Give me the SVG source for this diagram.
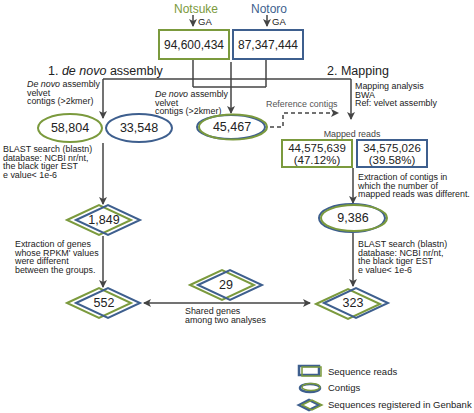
<svg xmlns="http://www.w3.org/2000/svg" width="474" height="413" viewBox="0 0 474 413">
<defs>
<marker id="ah" markerWidth="8" markerHeight="8" refX="7" refY="4" orient="auto" markerUnits="userSpaceOnUse"><path d="M0,0 L8,4 L0,8 L2,4 Z" fill="#444"/></marker>
<marker id="ahs" markerWidth="8" markerHeight="8" refX="1" refY="4" orient="auto" markerUnits="userSpaceOnUse"><path d="M8,0 L0,4 L8,8 L6,4 Z" fill="#444"/></marker>
</defs>
<style>
text{font-family:"Liberation Sans",Arial,sans-serif;fill:#222}
.n{font-size:12.5px;text-anchor:middle}
.s{font-size:8.9px}
.h{font-size:12.5px}
.g{fill:none;stroke:#7b9a3d;stroke-width:2}
.b{fill:none;stroke:#3e5f8e;stroke-width:2}
.ln{fill:none;stroke:#444;stroke-width:1.5}
.ar{fill:none;stroke:#444;stroke-width:1.5;marker-end:url(#ah)}
</style>
<rect width="474" height="413" fill="#fff"/>

<g id="connectors">
<line class="ln" x1="193" y1="59" x2="193" y2="87"/>
<line class="ln" x1="266" y1="59" x2="266" y2="87"/>
<line class="ln" x1="193" y1="87" x2="266" y2="87"/>
<line class="ar" x1="231" y1="62" x2="231" y2="113"/>
<polyline class="ln" points="103,79 351,79"/>
<line class="ar" x1="103" y1="79" x2="103" y2="118"/>
<line class="ar" x1="351" y1="79" x2="351" y2="119"/>
<polyline fill="none" stroke="#444" stroke-width="1.5" stroke-dasharray="4,3" points="270,127 283,127 283,113 338,113" marker-end="url(#ah)"/>
<line class="ar" x1="103" y1="143" x2="103" y2="204"/>
<line class="ar" x1="103" y1="236" x2="103" y2="287"/>
<line class="ar" x1="353" y1="168" x2="353" y2="203"/>
<line class="ar" x1="353" y1="233" x2="353" y2="286"/>
<line class="ln" x1="144" y1="303" x2="310" y2="303" marker-start="url(#ahs)" marker-end="url(#ah)"/>
<line class="ar" x1="193" y1="15" x2="193" y2="26"/>
<line class="ar" x1="267" y1="15" x2="267" y2="26"/>
</g>

<g id="titles">
<text x="196" y="13" class="n" style="fill:#7b9a3d;font-size:12px">Notsuke</text>
<text x="198" y="25" class="s" style="font-size:9.5px">GA</text>
<text x="269" y="13" class="n" style="fill:#3e5f8e;font-size:12px">Notoro</text>
<text x="272" y="25" class="s" style="font-size:9.5px">GA</text>
<text x="48" y="75" class="h">1.<tspan font-style="italic"> de novo</tspan> assembly</text>
<text x="327" y="75" class="h">2. Mapping</text>
</g>

<g id="box-notsuke">
<rect x="159" y="30" width="70" height="29" class="g"/>
<text x="194" y="49" class="n" style="font-size:12px">94,600,434</text>
</g>
<g id="box-notoro">
<rect x="233" y="30" width="70" height="29" class="b"/>
<text x="268" y="49" class="n" style="font-size:12px">87,347,444</text>
</g>

<g id="labels">
<text class="s" x="27" y="87"><tspan font-style="italic">De novo</tspan> assembly<tspan x="27" dy="8.6">velvet</tspan><tspan x="27" dy="8.6">contigs (&gt;2kmer)</tspan></text>
<text class="s" x="155" y="97"><tspan font-style="italic">De novo</tspan> assembly<tspan x="155" dy="8.6">velvet</tspan><tspan x="155" dy="8.6">contigs  (&gt;2kmer)</tspan></text>
<text class="s" x="355" y="89">Mapping analysis<tspan x="355" dy="8.6">BWA</tspan><tspan x="355" dy="8.6">Ref: velvet assembly</tspan></text>
<text class="s" x="266" y="107" style="fill:#555">Reference contigs</text>
<text class="s" x="352" y="137" text-anchor="middle" style="fill:#444">Mapped reads</text>
<text class="s" x="3" y="152">BLAST search (blastn)<tspan x="3" dy="8.6">database: NCBI nr/nt,</tspan><tspan x="3" dy="8.6">the black tiger EST</tspan><tspan x="3" dy="8.6">e value&lt; 1e-6</tspan></text>
<text class="s" x="358" y="180">Extraction of  contigs in<tspan x="358" dy="8.6">which the number of</tspan><tspan x="358" dy="8.6">mapped reads was different.</tspan></text>
<text class="s" x="15" y="247">Extraction of genes<tspan x="15" dy="8.6">whose RPKM' values</tspan><tspan x="15" dy="8.6">were different</tspan><tspan x="15" dy="8.6">between the groups.</tspan></text>
<text class="s" x="358" y="247">BLAST search (blastn)<tspan x="358" dy="8.6">database: NCBI nr/nt,</tspan><tspan x="358" dy="8.6">the black tiger EST</tspan><tspan x="358" dy="8.6">e value&lt; 1e-6</tspan></text>
<text class="s" x="185" y="314">Shared genes<tspan x="185" dy="8.6">among two analyses</tspan></text>
</g>

<g id="contig-58804">
<ellipse cx="70" cy="128" rx="32" ry="14" class="g"/>
<text x="70" y="132" class="n">58,804</text>
</g>
<g id="contig-33548">
<ellipse cx="139" cy="128" rx="33" ry="14" class="b"/>
<text x="139" y="132" class="n">33,548</text>
</g>
<g id="contig-45467">
<ellipse cx="231" cy="127" rx="34" ry="12" class="b"/>
<ellipse cx="233" cy="127" rx="34" ry="12.5" class="g"/>
<text x="232" y="131" class="n">45,467</text>
</g>
<g id="mapped-notsuke">
<rect x="282" y="140" width="70" height="27" class="g"/>
<text x="317" y="152" class="n" style="font-size:11.5px">44,575,639</text>
<text x="317" y="164" class="n" style="font-size:11.5px">(47.12%)</text>
</g>
<g id="mapped-notoro">
<rect x="357" y="140" width="70" height="27" class="b"/>
<text x="392" y="152" class="n" style="font-size:11.5px">34,575,026</text>
<text x="392" y="164" class="n" style="font-size:11.5px">(39.58%)</text>
</g>
<g id="contig-9386">
<ellipse cx="352" cy="218" rx="33" ry="14" class="b"/>
<ellipse cx="354" cy="218" rx="33" ry="13" class="g"/>
<text x="353" y="222" class="n">9,386</text>
</g>
<g id="gb-1849">
<polygon points="67,220 99,205 131,220 99,235" class="g"/>
<polygon points="76,220 108,205 140,220 108,235" class="b"/>
<text x="104" y="224" class="n">1,849</text>
</g>
<g id="gb-552">
<polygon points="67,303 99,288 131,303 99,318" class="g"/>
<polygon points="76,303 108,288 140,303 108,318" class="b"/>
<text x="104" y="307" class="n">552</text>
</g>
<g id="gb-29">
<polygon points="190,285 222,270 254,285 222,300" class="g"/>
<polygon points="198,285 230,270 262,285 230,300" class="b"/>
<text x="226" y="289" class="n">29</text>
</g>
<g id="gb-323">
<polygon points="316,304 348,289 380,304 348,319" class="g"/>
<polygon points="324,303 356,288 388,303 356,318" class="b"/>
<text x="353" y="307" class="n">323</text>
</g>

<g id="legend">
<rect x="299" y="366" width="20" height="9" fill="none" stroke="#3e5f8e" stroke-width="2.5"/>
<rect x="302" y="367" width="19" height="9" fill="none" stroke="#7b9a3d" stroke-width="1.5"/>
<text class="s" x="328" y="375" style="font-size:9.5px">Sequence reads</text>
<ellipse cx="310" cy="388" rx="10" ry="4" fill="none" stroke="#3e5f8e" stroke-width="2.5"/>
<ellipse cx="311" cy="387" rx="9" ry="3.5" fill="none" stroke="#7b9a3d" stroke-width="1.5"/>
<text class="s" x="328" y="391" style="font-size:9.5px">Contigs</text>
<polygon points="299,405 309,400 319,405 309,410" fill="none" stroke="#3e5f8e" stroke-width="2.5"/>
<polygon points="302,405 312,400 322,405 312,410" fill="none" stroke="#7b9a3d" stroke-width="1.5"/>
<text class="s" x="328" y="408" style="font-size:9.5px">Sequences registered in Genbank</text>
</g>
</svg>
